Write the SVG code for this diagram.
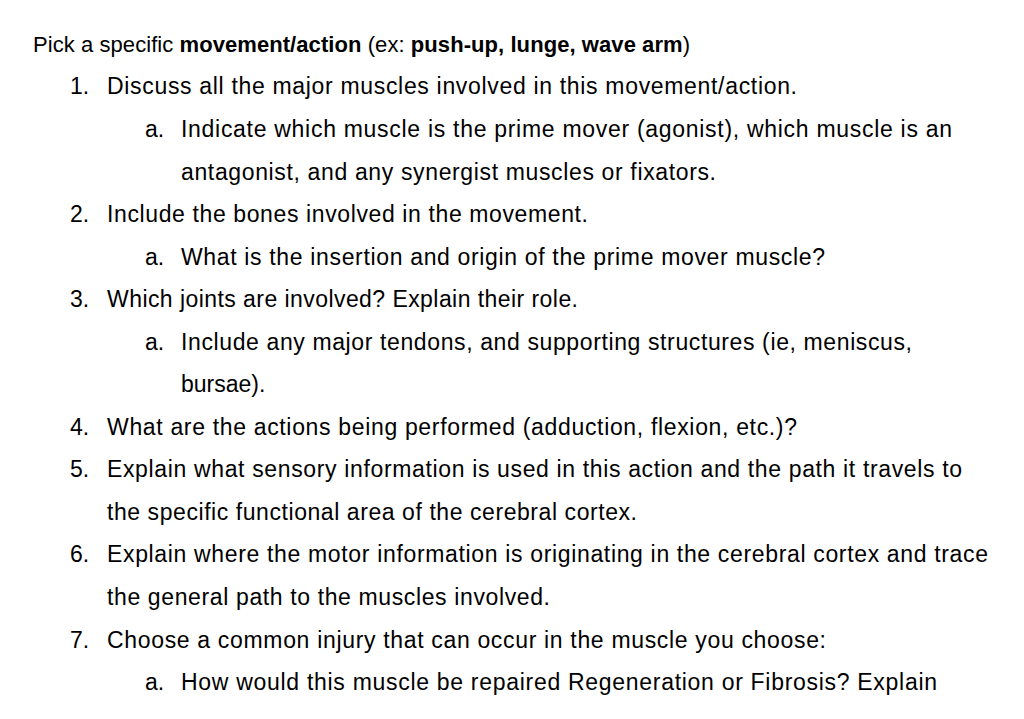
<svg xmlns="http://www.w3.org/2000/svg" width="1024" height="719" viewBox="0 0 1024 719">
<style>
text{font-family:"Liberation Sans",Arial,sans-serif;font-size:23px;fill:#000}
.h{font-size:22px}
.b{font-weight:bold}
</style>
<rect width="1024" height="719" fill="#fff"/>
<g id="text">
<text class="h" x="33" y="52" textLength="657">Pick a specific <tspan class="b">movement/action</tspan> (ex: <tspan class="b">push-up, lunge, wave arm</tspan>)</text>
<text x="70" y="94">1.</text><text x="107" y="94" textLength="690">Discuss all the major muscles involved in this movement/action.</text>
<text x="145" y="137">a.</text><text x="181" y="137" textLength="771">Indicate which muscle is the prime mover (agonist), which muscle is an</text>
<text x="181" y="180" textLength="535">antagonist, and any synergist muscles or fixators.</text>
<text x="70" y="222">2.</text><text x="107" y="222" textLength="481">Include the bones involved in the movement.</text>
<text x="145" y="265">a.</text><text x="181" y="265" textLength="644">What is the insertion and origin of the prime mover muscle?</text>
<text x="70" y="307">3.</text><text x="107" y="307" textLength="471">Which joints are involved? Explain their role.</text>
<text x="145" y="350">a.</text><text x="181" y="350" textLength="731">Include any major tendons, and supporting structures (ie, meniscus,</text>
<text x="181" y="392">bursae).</text>
<text x="70" y="435">4.</text><text x="107" y="435" textLength="690">What are the actions being performed (adduction, flexion, etc.)?</text>
<text x="70" y="477">5.</text><text x="107" y="477" textLength="855">Explain what sensory information is used in this action and the path it travels to</text>
<text x="107" y="520" textLength="530">the specific functional area of the cerebral cortex.</text>
<text x="70" y="562">6.</text><text x="107" y="562" textLength="881">Explain where the motor information is originating in the cerebral cortex and trace</text>
<text x="107" y="605" textLength="443">the general path to the muscles involved.</text>
<text x="70" y="648">7.</text><text x="107" y="648" textLength="719">Choose a common injury that can occur in the muscle you choose:</text>
<text x="145" y="690">a.</text><text x="181" y="690" textLength="756">How would this muscle be repaired Regeneration or Fibrosis? Explain</text>
</g>
</svg>
